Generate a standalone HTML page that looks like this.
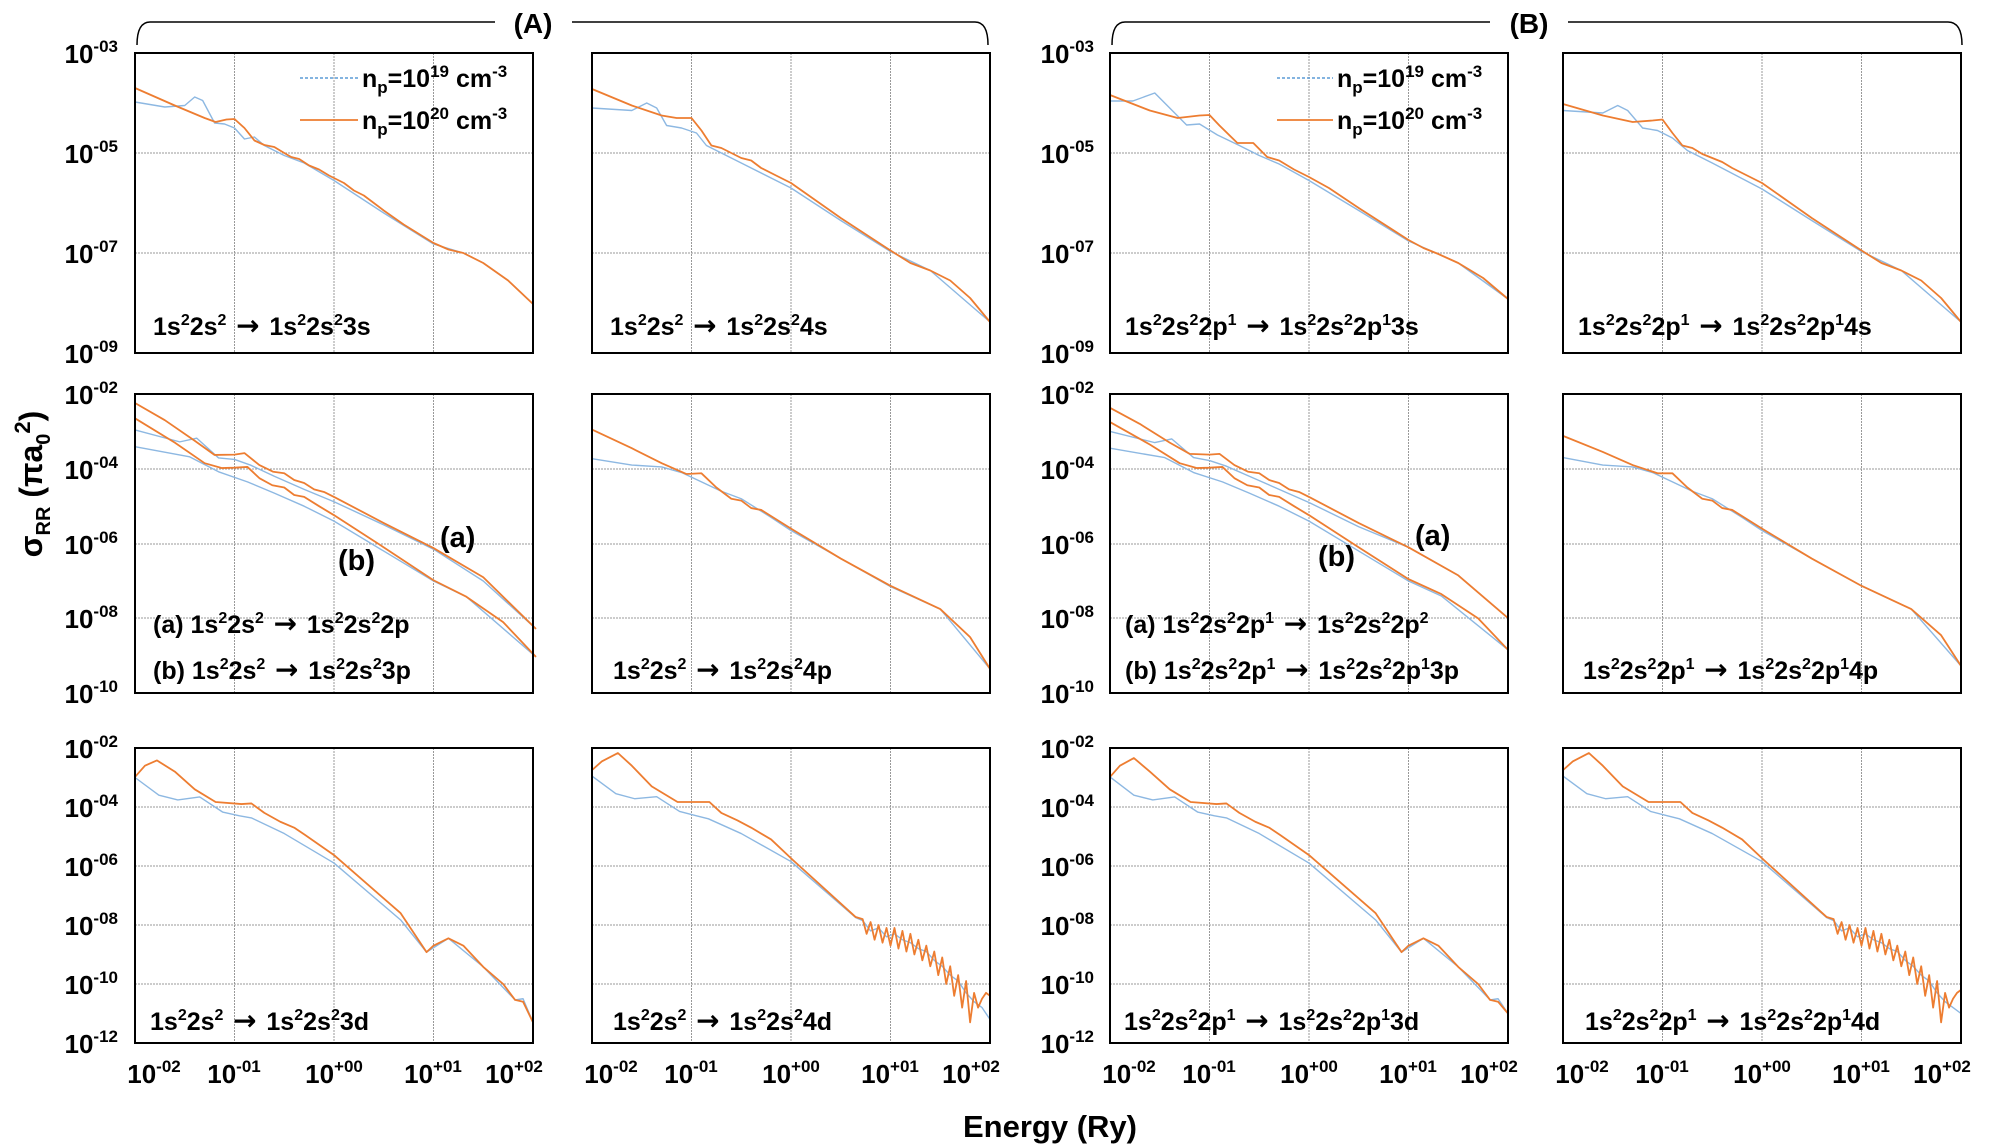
<!DOCTYPE html>
<html><head><meta charset="utf-8"><style>
html,body{margin:0;padding:0;background:#fff}
svg{display:block}
text{font-family:"Liberation Sans",sans-serif;font-weight:bold;fill:#000}
.tk{font-size:26px}
.lb{font-size:25px}
.ar{font-family:"DejaVu Sans",sans-serif;font-size:28px;font-weight:bold}
.fr{fill:none;stroke:#000;stroke-width:2}
.gr{stroke:#999;stroke-width:1;stroke-dasharray:2,1}
.o{fill:none;stroke:#ED7D31;stroke-width:1.8;vector-effect:non-scaling-stroke;stroke-linejoin:round}
.b{fill:none;stroke:#8DB8E2;stroke-width:1.4;vector-effect:non-scaling-stroke;stroke-linejoin:round}
</style></head><body>
<svg width="1998" height="1148" viewBox="0 0 1998 1148" xmlns="http://www.w3.org/2000/svg">
<path d="M137,45 Q137,22 150,22 L495,22 M572,22 L975,22 Q988,22 988,45" fill="none" stroke="#000" stroke-width="1.5"/>
<text x="533" y="33" text-anchor="middle" style="font-size:28px">(A)</text>
<path d="M1112,45 Q1112,22 1125,22 L1490,22 M1568,22 L1948,22 Q1962,22 1962,45" fill="none" stroke="#000" stroke-width="1.5"/>
<text x="1529" y="33" text-anchor="middle" style="font-size:28px">(B)</text>

<text transform="translate(42,484) rotate(-90)" text-anchor="middle" style="font-size:32px">σ<tspan dy="8" font-size="20">RR</tspan><tspan dy="-8"> (πa</tspan><tspan dy="8" font-size="20">0</tspan><tspan dy="-20" font-size="22">2</tspan><tspan dy="12">)</tspan></text>
<text x="1050" y="1137" text-anchor="middle" style="font-size:31px">Energy (Ry)</text>

<g class="gr">
<line x1="135" x2="533" y1="153" y2="153"/><line x1="135" x2="533" y1="253" y2="253"/>
<line x1="592" x2="990" y1="153" y2="153"/><line x1="592" x2="990" y1="253" y2="253"/>
<line x1="1110" x2="1508" y1="153" y2="153"/><line x1="1110" x2="1508" y1="253" y2="253"/>
<line x1="1563" x2="1961" y1="153" y2="153"/><line x1="1563" x2="1961" y1="253" y2="253"/>
<line x1="135" x2="533" y1="469" y2="469"/><line x1="135" x2="533" y1="544" y2="544"/><line x1="135" x2="533" y1="618" y2="618"/>
<line x1="592" x2="990" y1="469" y2="469"/><line x1="592" x2="990" y1="544" y2="544"/><line x1="592" x2="990" y1="618" y2="618"/>
<line x1="1110" x2="1508" y1="469" y2="469"/><line x1="1110" x2="1508" y1="544" y2="544"/><line x1="1110" x2="1508" y1="618" y2="618"/>
<line x1="1563" x2="1961" y1="469" y2="469"/><line x1="1563" x2="1961" y1="544" y2="544"/><line x1="1563" x2="1961" y1="618" y2="618"/>
<line x1="135" x2="533" y1="807" y2="807"/><line x1="135" x2="533" y1="866" y2="866"/><line x1="135" x2="533" y1="925" y2="925"/><line x1="135" x2="533" y1="984" y2="984"/>
<line x1="592" x2="990" y1="807" y2="807"/><line x1="592" x2="990" y1="866" y2="866"/><line x1="592" x2="990" y1="925" y2="925"/><line x1="592" x2="990" y1="984" y2="984"/>
<line x1="1110" x2="1508" y1="807" y2="807"/><line x1="1110" x2="1508" y1="866" y2="866"/><line x1="1110" x2="1508" y1="925" y2="925"/><line x1="1110" x2="1508" y1="984" y2="984"/>
<line x1="1563" x2="1961" y1="807" y2="807"/><line x1="1563" x2="1961" y1="866" y2="866"/><line x1="1563" x2="1961" y1="925" y2="925"/><line x1="1563" x2="1961" y1="984" y2="984"/>
<line x1="234.5" x2="234.5" y1="53" y2="353"/><line x1="334" x2="334" y1="53" y2="353"/><line x1="433.5" x2="433.5" y1="53" y2="353"/>
<line x1="691.5" x2="691.5" y1="53" y2="353"/><line x1="791" x2="791" y1="53" y2="353"/><line x1="890.5" x2="890.5" y1="53" y2="353"/>
<line x1="1209.5" x2="1209.5" y1="53" y2="353"/><line x1="1309" x2="1309" y1="53" y2="353"/><line x1="1408.5" x2="1408.5" y1="53" y2="353"/>
<line x1="1662.5" x2="1662.5" y1="53" y2="353"/><line x1="1762" x2="1762" y1="53" y2="353"/><line x1="1861.5" x2="1861.5" y1="53" y2="353"/>
<line x1="234.5" x2="234.5" y1="394" y2="693"/><line x1="334" x2="334" y1="394" y2="693"/><line x1="433.5" x2="433.5" y1="394" y2="693"/>
<line x1="691.5" x2="691.5" y1="394" y2="693"/><line x1="791" x2="791" y1="394" y2="693"/><line x1="890.5" x2="890.5" y1="394" y2="693"/>
<line x1="1209.5" x2="1209.5" y1="394" y2="693"/><line x1="1309" x2="1309" y1="394" y2="693"/><line x1="1408.5" x2="1408.5" y1="394" y2="693"/>
<line x1="1662.5" x2="1662.5" y1="394" y2="693"/><line x1="1762" x2="1762" y1="394" y2="693"/><line x1="1861.5" x2="1861.5" y1="394" y2="693"/>
<line x1="234.5" x2="234.5" y1="748" y2="1043"/><line x1="334" x2="334" y1="748" y2="1043"/><line x1="433.5" x2="433.5" y1="748" y2="1043"/>
<line x1="691.5" x2="691.5" y1="748" y2="1043"/><line x1="791" x2="791" y1="748" y2="1043"/><line x1="890.5" x2="890.5" y1="748" y2="1043"/>
<line x1="1209.5" x2="1209.5" y1="748" y2="1043"/><line x1="1309" x2="1309" y1="748" y2="1043"/><line x1="1408.5" x2="1408.5" y1="748" y2="1043"/>
<line x1="1662.5" x2="1662.5" y1="748" y2="1043"/><line x1="1762" x2="1762" y1="748" y2="1043"/><line x1="1861.5" x2="1861.5" y1="748" y2="1043"/>
</g>

<g transform="translate(135,53) scale(99.5,-50) translate(2,3)">
<polyline class="b" points="-2,-3.98 -1.7,-4.08 -1.5,-4.05 -1.4,-3.88 -1.32,-3.95 -1.2,-4.4 -1.1,-4.42 -1.0,-4.5 -0.9,-4.72 -0.8,-4.68 -0.7,-4.85 -0.5,-5.05 -0.3,-5.2 0,-5.55 0.5,-6.2 1.0,-6.82 1.3,-7.0 1.5,-7.2 1.75,-7.55 2,-8.02"/>
<polyline class="o" points="-2,-3.7 -1.6,-4.05 -1.3,-4.3 -1.19,-4.38 -1.08,-4.33 -1.0,-4.32 -0.9,-4.5 -0.8,-4.75 -0.7,-4.84 -0.6,-4.88 -0.5,-5.0 -0.43,-5.08 -0.35,-5.12 -0.25,-5.25 -0.15,-5.33 -0.05,-5.45 0,-5.5 0.1,-5.6 0.2,-5.75 0.3,-5.85 0.5,-6.15 0.7,-6.43 1.0,-6.8 1.15,-6.93 1.3,-7.0 1.5,-7.2 1.75,-7.55 2,-8.02"/>
</g>
<g transform="translate(592,53) scale(99.5,-50) translate(2,3)">
<polyline class="b" points="-2,-4.1 -1.6,-4.15 -1.45,-4.0 -1.35,-4.1 -1.25,-4.45 -1.1,-4.5 -0.95,-4.6 -0.85,-4.85 -0.7,-5.0 -0.5,-5.2 0,-5.7 0.5,-6.35 1,-6.97 1.4,-7.35 2,-8.38"/>
<polyline class="o" points="-2,-3.72 -1.6,-4.05 -1.3,-4.25 -1.15,-4.3 -1.0,-4.3 -0.9,-4.55 -0.8,-4.85 -0.7,-4.9 -0.6,-5.0 -0.5,-5.1 -0.4,-5.15 -0.3,-5.3 -0.15,-5.45 0,-5.6 0.5,-6.3 1,-6.95 1.2,-7.2 1.4,-7.35 1.6,-7.55 1.8,-7.9 2,-8.38"/>
</g>
<g transform="translate(1110,53) scale(99.5,-50) translate(2,3)">
<polyline class="b" points="-2,-3.96 -1.77,-3.96 -1.55,-3.8 -1.4,-4.1 -1.23,-4.44 -1.1,-4.42 -0.92,-4.64 -0.71,-4.84 -0.5,-5.05 -0.3,-5.22 0,-5.55 0.5,-6.15 1.0,-6.76 1.3,-7.02 1.5,-7.2 2,-7.92"/>
<polyline class="o" points="-2,-3.84 -1.6,-4.15 -1.32,-4.3 -1.1,-4.25 -1.0,-4.24 -0.9,-4.45 -0.72,-4.8 -0.56,-4.8 -0.42,-5.08 -0.3,-5.15 -0.15,-5.33 0,-5.48 0.2,-5.7 0.5,-6.1 1.0,-6.74 1.15,-6.9 1.3,-7.02 1.5,-7.2 1.75,-7.5 2,-7.92"/>
</g>
<g transform="translate(1563,53) scale(99.5,-50) translate(2,3)">
<polyline class="b" points="-2,-4.15 -1.6,-4.2 -1.45,-4.05 -1.35,-4.15 -1.2,-4.5 -1.05,-4.55 -0.9,-4.7 -0.75,-4.95 -0.5,-5.2 0,-5.72 0.5,-6.35 1,-6.97 1.4,-7.35 2,-8.38"/>
<polyline class="o" points="-2,-4.02 -1.6,-4.25 -1.3,-4.38 -1.1,-4.35 -1.0,-4.33 -0.9,-4.6 -0.8,-4.85 -0.7,-4.9 -0.6,-5.02 -0.5,-5.1 -0.4,-5.18 -0.3,-5.3 -0.15,-5.45 0,-5.6 0.5,-6.3 1,-6.95 1.2,-7.2 1.4,-7.35 1.6,-7.55 1.8,-7.9 2,-8.38"/>
</g>

<g transform="translate(135,394) scale(99.5,-37.4) translate(2,2)">
<polyline class="b" points="-2,-2.96 -1.55,-3.28 -1.38,-3.18 -1.16,-3.71 -1.0,-3.75 -0.84,-3.9 -0.6,-4.2 -0.3,-4.55 0,-4.88 0.5,-5.5 1.0,-6.15 1.5,-7.0 2.03,-8.28"/>
<polyline class="b" points="-2,-3.41 -1.45,-3.68 -1.16,-4.08 -0.87,-4.35 -0.6,-4.65 -0.3,-5.0 0,-5.4 0.5,-6.2 1.0,-7.0 1.33,-7.42 2.03,-9.03"/>
<polyline class="o" points="-2,-2.24 -1.7,-2.7 -1.4,-3.25 -1.2,-3.63 -1.0,-3.62 -0.9,-3.58 -0.75,-3.9 -0.61,-4.08 -0.5,-4.12 -0.4,-4.3 -0.3,-4.38 -0.2,-4.55 -0.1,-4.62 0.02,-4.78 0.5,-5.45 1.0,-6.12 1.5,-6.9 2.03,-8.28"/>
<polyline class="o" points="-2,-2.65 -1.6,-3.3 -1.3,-3.85 -1.13,-3.98 -1.0,-3.97 -0.87,-3.95 -0.75,-4.25 -0.62,-4.44 -0.5,-4.5 -0.4,-4.7 -0.3,-4.75 -0.15,-5.0 0,-5.24 0.5,-6.1 1.0,-6.98 1.33,-7.42 1.7,-8.1 2.03,-9.03"/>
</g>
<g transform="translate(592,394) scale(99.5,-37.4) translate(2,2)">
<polyline class="b" points="-2,-3.73 -1.6,-3.9 -1.3,-3.95 -1.1,-4.1 -0.9,-4.35 -0.7,-4.6 -0.5,-4.8 -0.2,-5.3 0,-5.65 0.5,-6.4 1,-7.15 1.5,-7.75 2,-9.35"/>
<polyline class="o" points="-2,-2.95 -1.6,-3.45 -1.3,-3.85 -1.05,-4.14 -0.9,-4.12 -0.75,-4.5 -0.6,-4.8 -0.5,-4.85 -0.4,-5.05 -0.3,-5.1 -0.15,-5.35 0,-5.6 0.5,-6.4 1,-7.13 1.5,-7.75 1.8,-8.5 2,-9.35"/>
</g>
<g transform="translate(1110,394) scale(99.5,-37.4) translate(2,2)">
<polyline class="b" points="-2,-3.0 -1.55,-3.3 -1.38,-3.2 -1.16,-3.7 -1.0,-3.78 -0.84,-3.92 -0.6,-4.2 -0.3,-4.55 0,-4.9 0.5,-5.55 1.0,-6.1 1.5,-6.85 2,-7.99"/>
<polyline class="b" points="-2,-3.45 -1.45,-3.7 -1.16,-4.1 -0.87,-4.35 -0.6,-4.65 -0.3,-5.0 0,-5.4 0.5,-6.2 1.0,-7.0 1.33,-7.4 2,-8.84"/>
<polyline class="o" points="-2,-2.37 -1.7,-2.8 -1.4,-3.3 -1.2,-3.6 -1.0,-3.62 -0.9,-3.6 -0.75,-3.9 -0.61,-4.08 -0.5,-4.12 -0.4,-4.3 -0.3,-4.38 -0.2,-4.55 -0.1,-4.62 0.02,-4.78 0.5,-5.45 1.0,-6.1 1.5,-6.85 2,-7.99"/>
<polyline class="o" points="-2,-2.75 -1.6,-3.35 -1.3,-3.85 -1.13,-3.98 -1.0,-3.97 -0.87,-3.95 -0.75,-4.25 -0.62,-4.44 -0.5,-4.5 -0.4,-4.7 -0.3,-4.75 -0.15,-5.0 0,-5.24 0.5,-6.1 1.0,-6.95 1.33,-7.35 1.7,-8.0 2,-8.84"/>
</g>
<g transform="translate(1563,394) scale(99.5,-37.4) translate(2,2)">
<polyline class="b" points="-2,-3.7 -1.6,-3.9 -1.3,-3.95 -1.1,-4.1 -0.9,-4.35 -0.7,-4.6 -0.5,-4.8 -0.2,-5.3 0,-5.65 0.5,-6.4 1,-7.13 1.5,-7.75 2,-9.27"/>
<polyline class="o" points="-2,-3.12 -1.6,-3.55 -1.3,-3.9 -1.05,-4.12 -0.9,-4.12 -0.75,-4.5 -0.6,-4.8 -0.5,-4.85 -0.4,-5.05 -0.3,-5.1 -0.15,-5.35 0,-5.6 0.5,-6.4 1,-7.13 1.5,-7.75 1.8,-8.45 2,-9.27"/>
</g>

<g transform="translate(135,748) scale(99.5,-29.5) translate(2,2)">
<polyline class="b" points="-2,-3.0 -1.76,-3.6 -1.57,-3.76 -1.35,-3.66 -1.12,-4.17 -0.95,-4.3 -0.83,-4.37 -0.5,-4.9 0,-5.9 0.67,-7.83 0.93,-8.92 1.15,-8.45 1.5,-9.42 1.82,-10.54 1.9,-10.5 2,-11.3"/>
<polyline class="o" points="-2,-2.98 -1.9,-2.6 -1.78,-2.42 -1.6,-2.8 -1.4,-3.4 -1.19,-3.83 -0.93,-3.9 -0.83,-3.88 -0.7,-4.2 -0.54,-4.5 -0.4,-4.7 -0.29,-4.95 0,-5.63 0.67,-7.6 0.93,-8.92 1.0,-8.7 1.15,-8.45 1.3,-8.7 1.5,-9.42 1.7,-10.0 1.82,-10.54 1.9,-10.6 2,-11.3"/>
</g>
<g transform="translate(592,748) scale(99.5,-29.5) translate(2,2)">
<polyline class="b" points="-2,-2.95 -1.76,-3.55 -1.57,-3.72 -1.35,-3.65 -1.12,-4.15 -0.95,-4.3 -0.83,-4.4 -0.5,-4.9 0,-5.85 0.65,-7.75 0.72,-7.85 0.8,-8.2 0.88,-8.1 0.96,-8.4 1.04,-8.3 1.12,-8.5 1.2,-8.6 1.28,-8.8 1.36,-8.9 1.44,-9.2 1.52,-9.4 1.6,-9.7 1.68,-9.9 1.76,-10.3 1.84,-10.6 1.92,-10.8 2,-11.2"/>
<polyline class="o" points="-2,-2.75 -1.9,-2.45 -1.74,-2.17 -1.6,-2.6 -1.4,-3.3 -1.14,-3.83 -0.82,-3.83 -0.7,-4.2 -0.54,-4.45 -0.4,-4.7 -0.2,-5.1 0.02,-5.8 0.65,-7.73 0.72,-7.8 0.76,-8.3 0.80,-7.9 0.84,-8.5 0.88,-8.0 0.92,-8.6 0.96,-8.1 1.00,-8.7 1.04,-8.1 1.08,-8.8 1.12,-8.2 1.16,-8.9 1.20,-8.3 1.24,-9.0 1.28,-8.5 1.32,-9.2 1.36,-8.7 1.40,-9.4 1.44,-8.9 1.48,-9.7 1.52,-9.1 1.56,-10.0 1.60,-9.4 1.64,-10.4 1.68,-9.7 1.72,-10.8 1.76,-9.9 1.80,-11.3 1.84,-10.3 1.88,-10.8 1.92,-10.5 1.96,-10.3 2,-10.4"/>
</g>
<g transform="translate(1110,748) scale(99.5,-29.5) translate(2,2)">
<polyline class="b" points="-2,-2.98 -1.76,-3.6 -1.57,-3.76 -1.35,-3.66 -1.12,-4.17 -0.95,-4.3 -0.83,-4.37 -0.5,-4.9 0,-5.9 0.67,-7.83 0.93,-8.92 1.15,-8.45 1.5,-9.42 1.82,-10.54 1.9,-10.5 2,-11.0"/>
<polyline class="o" points="-2,-2.98 -1.9,-2.6 -1.76,-2.34 -1.6,-2.8 -1.4,-3.4 -1.19,-3.83 -0.93,-3.9 -0.83,-3.88 -0.7,-4.2 -0.54,-4.5 -0.4,-4.7 -0.29,-4.95 0,-5.63 0.67,-7.6 0.93,-8.92 1.0,-8.7 1.15,-8.45 1.3,-8.7 1.5,-9.42 1.7,-10.0 1.82,-10.54 1.9,-10.6 2,-11.0"/>
</g>
<g transform="translate(1563,748) scale(99.5,-29.5) translate(2,2)">
<polyline class="b" points="-2,-2.95 -1.76,-3.55 -1.57,-3.72 -1.35,-3.65 -1.12,-4.15 -0.95,-4.3 -0.83,-4.4 -0.5,-4.9 0,-5.85 0.65,-7.75 0.72,-7.85 0.8,-8.2 0.88,-8.1 0.96,-8.4 1.04,-8.3 1.12,-8.5 1.2,-8.6 1.28,-8.8 1.36,-8.9 1.44,-9.2 1.52,-9.4 1.6,-9.7 1.68,-9.9 1.76,-10.3 1.84,-10.6 1.92,-10.8 2,-11.0"/>
<polyline class="o" points="-2,-2.75 -1.9,-2.45 -1.74,-2.17 -1.6,-2.6 -1.4,-3.3 -1.14,-3.83 -0.82,-3.83 -0.7,-4.2 -0.54,-4.45 -0.4,-4.7 -0.2,-5.1 0.02,-5.8 0.65,-7.73 0.72,-7.8 0.76,-8.3 0.80,-7.9 0.84,-8.5 0.88,-8.0 0.92,-8.6 0.96,-8.1 1.00,-8.7 1.04,-8.1 1.08,-8.8 1.12,-8.2 1.16,-8.9 1.20,-8.3 1.24,-9.0 1.28,-8.5 1.32,-9.2 1.36,-8.7 1.40,-9.4 1.44,-8.9 1.48,-9.7 1.52,-9.1 1.56,-10.0 1.60,-9.4 1.64,-10.4 1.68,-9.7 1.72,-10.8 1.76,-9.9 1.80,-11.3 1.84,-10.3 1.88,-10.8 1.92,-10.5 1.96,-10.3 2,-10.2"/>
</g>

<g class="fr">
<rect x="135" y="53" width="398" height="300"/><rect x="592" y="53" width="398" height="300"/><rect x="1110" y="53" width="398" height="300"/><rect x="1563" y="53" width="398" height="300"/>
<rect x="135" y="394" width="398" height="299"/><rect x="592" y="394" width="398" height="299"/><rect x="1110" y="394" width="398" height="299"/><rect x="1563" y="394" width="398" height="299"/>
<rect x="135" y="748" width="398" height="295"/><rect x="592" y="748" width="398" height="295"/><rect x="1110" y="748" width="398" height="295"/><rect x="1563" y="748" width="398" height="295"/>
</g>

<g class="tk" text-anchor="end">
<text x="118" y="63">10<tspan dy="-11" font-size="17">-03</tspan></text>
<text x="118" y="163">10<tspan dy="-11" font-size="17">-05</tspan></text>
<text x="118" y="263">10<tspan dy="-11" font-size="17">-07</tspan></text>
<text x="118" y="363">10<tspan dy="-11" font-size="17">-09</tspan></text>
<text x="118" y="404">10<tspan dy="-11" font-size="17">-02</tspan></text>
<text x="118" y="479">10<tspan dy="-11" font-size="17">-04</tspan></text>
<text x="118" y="554">10<tspan dy="-11" font-size="17">-06</tspan></text>
<text x="118" y="628">10<tspan dy="-11" font-size="17">-08</tspan></text>
<text x="118" y="703">10<tspan dy="-11" font-size="17">-10</tspan></text>
<text x="118" y="758">10<tspan dy="-11" font-size="17">-02</tspan></text>
<text x="118" y="817">10<tspan dy="-11" font-size="17">-04</tspan></text>
<text x="118" y="876">10<tspan dy="-11" font-size="17">-06</tspan></text>
<text x="118" y="935">10<tspan dy="-11" font-size="17">-08</tspan></text>
<text x="118" y="994">10<tspan dy="-11" font-size="17">-10</tspan></text>
<text x="118" y="1053">10<tspan dy="-11" font-size="17">-12</tspan></text>
<text x="1094" y="63">10<tspan dy="-11" font-size="17">-03</tspan></text>
<text x="1094" y="163">10<tspan dy="-11" font-size="17">-05</tspan></text>
<text x="1094" y="263">10<tspan dy="-11" font-size="17">-07</tspan></text>
<text x="1094" y="363">10<tspan dy="-11" font-size="17">-09</tspan></text>
<text x="1094" y="404">10<tspan dy="-11" font-size="17">-02</tspan></text>
<text x="1094" y="479">10<tspan dy="-11" font-size="17">-04</tspan></text>
<text x="1094" y="554">10<tspan dy="-11" font-size="17">-06</tspan></text>
<text x="1094" y="628">10<tspan dy="-11" font-size="17">-08</tspan></text>
<text x="1094" y="703">10<tspan dy="-11" font-size="17">-10</tspan></text>
<text x="1094" y="758">10<tspan dy="-11" font-size="17">-02</tspan></text>
<text x="1094" y="817">10<tspan dy="-11" font-size="17">-04</tspan></text>
<text x="1094" y="876">10<tspan dy="-11" font-size="17">-06</tspan></text>
<text x="1094" y="935">10<tspan dy="-11" font-size="17">-08</tspan></text>
<text x="1094" y="994">10<tspan dy="-11" font-size="17">-10</tspan></text>
<text x="1094" y="1053">10<tspan dy="-11" font-size="17">-12</tspan></text>
</g>

<g class="tk" text-anchor="middle">
<text x="154" y="1083">10<tspan dy="-11" font-size="17">-02</tspan></text>
<text x="234" y="1083">10<tspan dy="-11" font-size="17">-01</tspan></text>
<text x="334" y="1083">10<tspan dy="-11" font-size="17">+00</tspan></text>
<text x="433" y="1083">10<tspan dy="-11" font-size="17">+01</tspan></text>
<text x="514" y="1083">10<tspan dy="-11" font-size="17">+02</tspan></text>
<text x="611" y="1083">10<tspan dy="-11" font-size="17">-02</tspan></text>
<text x="691" y="1083">10<tspan dy="-11" font-size="17">-01</tspan></text>
<text x="791" y="1083">10<tspan dy="-11" font-size="17">+00</tspan></text>
<text x="890" y="1083">10<tspan dy="-11" font-size="17">+01</tspan></text>
<text x="971" y="1083">10<tspan dy="-11" font-size="17">+02</tspan></text>
<text x="1129" y="1083">10<tspan dy="-11" font-size="17">-02</tspan></text>
<text x="1209" y="1083">10<tspan dy="-11" font-size="17">-01</tspan></text>
<text x="1309" y="1083">10<tspan dy="-11" font-size="17">+00</tspan></text>
<text x="1408" y="1083">10<tspan dy="-11" font-size="17">+01</tspan></text>
<text x="1489" y="1083">10<tspan dy="-11" font-size="17">+02</tspan></text>
<text x="1582" y="1083">10<tspan dy="-11" font-size="17">-02</tspan></text>
<text x="1662" y="1083">10<tspan dy="-11" font-size="17">-01</tspan></text>
<text x="1762" y="1083">10<tspan dy="-11" font-size="17">+00</tspan></text>
<text x="1861" y="1083">10<tspan dy="-11" font-size="17">+01</tspan></text>
<text x="1942" y="1083">10<tspan dy="-11" font-size="17">+02</tspan></text>
</g>

<line x1="300" x2="358" y1="78" y2="78" stroke="#5B9BD5" stroke-width="1.5" stroke-dasharray="3,2"/>
<line x1="300" x2="358" y1="120" y2="120" stroke="#ED7D31" stroke-width="1.8"/>
<text x="362" y="87" class="lb">n<tspan dy="6" font-size="17">p</tspan><tspan dy="-6">=10</tspan><tspan dy="-10" font-size="17">19</tspan><tspan dy="10"> cm</tspan><tspan dy="-10" font-size="17">-3</tspan></text>
<text x="362" y="129" class="lb">n<tspan dy="6" font-size="17">p</tspan><tspan dy="-6">=10</tspan><tspan dy="-10" font-size="17">20</tspan><tspan dy="10"> cm</tspan><tspan dy="-10" font-size="17">-3</tspan></text>
<line x1="1277" x2="1333" y1="78" y2="78" stroke="#5B9BD5" stroke-width="1.5" stroke-dasharray="3,2"/>
<line x1="1277" x2="1333" y1="120" y2="120" stroke="#ED7D31" stroke-width="1.8"/>
<text x="1337" y="87" class="lb">n<tspan dy="6" font-size="17">p</tspan><tspan dy="-6">=10</tspan><tspan dy="-10" font-size="17">19</tspan><tspan dy="10"> cm</tspan><tspan dy="-10" font-size="17">-3</tspan></text>
<text x="1337" y="129" class="lb">n<tspan dy="6" font-size="17">p</tspan><tspan dy="-6">=10</tspan><tspan dy="-10" font-size="17">20</tspan><tspan dy="10"> cm</tspan><tspan dy="-10" font-size="17">-3</tspan></text>

<g class="lb">
<text x="153" y="335">1s<tspan dy="-10" font-size="16">2</tspan><tspan dy="10">2s</tspan><tspan dy="-10" font-size="16">2</tspan><tspan dy="10" class="ar"> → </tspan><tspan>1s</tspan><tspan dy="-10" font-size="16">2</tspan><tspan dy="10">2s</tspan><tspan dy="-10" font-size="16">2</tspan><tspan dy="10">3s</tspan></text>
<text x="610" y="335">1s<tspan dy="-10" font-size="16">2</tspan><tspan dy="10">2s</tspan><tspan dy="-10" font-size="16">2</tspan><tspan dy="10" class="ar"> → </tspan><tspan>1s</tspan><tspan dy="-10" font-size="16">2</tspan><tspan dy="10">2s</tspan><tspan dy="-10" font-size="16">2</tspan><tspan dy="10">4s</tspan></text>
<text x="1125" y="335">1s<tspan dy="-10" font-size="16">2</tspan><tspan dy="10">2s</tspan><tspan dy="-10" font-size="16">2</tspan><tspan dy="10">2p</tspan><tspan dy="-10" font-size="16">1</tspan><tspan dy="10" class="ar"> → </tspan><tspan>1s</tspan><tspan dy="-10" font-size="16">2</tspan><tspan dy="10">2s</tspan><tspan dy="-10" font-size="16">2</tspan><tspan dy="10">2p</tspan><tspan dy="-10" font-size="16">1</tspan><tspan dy="10">3s</tspan></text>
<text x="1578" y="335">1s<tspan dy="-10" font-size="16">2</tspan><tspan dy="10">2s</tspan><tspan dy="-10" font-size="16">2</tspan><tspan dy="10">2p</tspan><tspan dy="-10" font-size="16">1</tspan><tspan dy="10" class="ar"> → </tspan><tspan>1s</tspan><tspan dy="-10" font-size="16">2</tspan><tspan dy="10">2s</tspan><tspan dy="-10" font-size="16">2</tspan><tspan dy="10">2p</tspan><tspan dy="-10" font-size="16">1</tspan><tspan dy="10">4s</tspan></text>

<text x="153" y="633">(a) 1s<tspan dy="-10" font-size="16">2</tspan><tspan dy="10">2s</tspan><tspan dy="-10" font-size="16">2</tspan><tspan dy="10" class="ar"> → </tspan><tspan>1s</tspan><tspan dy="-10" font-size="16">2</tspan><tspan dy="10">2s</tspan><tspan dy="-10" font-size="16">2</tspan><tspan dy="10">2p</tspan></text>
<text x="153" y="679">(b) 1s<tspan dy="-10" font-size="16">2</tspan><tspan dy="10">2s</tspan><tspan dy="-10" font-size="16">2</tspan><tspan dy="10" class="ar"> → </tspan><tspan>1s</tspan><tspan dy="-10" font-size="16">2</tspan><tspan dy="10">2s</tspan><tspan dy="-10" font-size="16">2</tspan><tspan dy="10">3p</tspan></text>
<text x="613" y="679">1s<tspan dy="-10" font-size="16">2</tspan><tspan dy="10">2s</tspan><tspan dy="-10" font-size="16">2</tspan><tspan dy="10" class="ar"> → </tspan><tspan>1s</tspan><tspan dy="-10" font-size="16">2</tspan><tspan dy="10">2s</tspan><tspan dy="-10" font-size="16">2</tspan><tspan dy="10">4p</tspan></text>
<text x="1125" y="633">(a) 1s<tspan dy="-10" font-size="16">2</tspan><tspan dy="10">2s</tspan><tspan dy="-10" font-size="16">2</tspan><tspan dy="10">2p</tspan><tspan dy="-10" font-size="16">1</tspan><tspan dy="10" class="ar"> → </tspan><tspan>1s</tspan><tspan dy="-10" font-size="16">2</tspan><tspan dy="10">2s</tspan><tspan dy="-10" font-size="16">2</tspan><tspan dy="10">2p</tspan><tspan dy="-10" font-size="16">2</tspan></text>
<text x="1125" y="679">(b) 1s<tspan dy="-10" font-size="16">2</tspan><tspan dy="10">2s</tspan><tspan dy="-10" font-size="16">2</tspan><tspan dy="10">2p</tspan><tspan dy="-10" font-size="16">1</tspan><tspan dy="10" class="ar"> → </tspan><tspan>1s</tspan><tspan dy="-10" font-size="16">2</tspan><tspan dy="10">2s</tspan><tspan dy="-10" font-size="16">2</tspan><tspan dy="10">2p</tspan><tspan dy="-10" font-size="16">1</tspan><tspan dy="10">3p</tspan></text>
<text x="1583" y="679">1s<tspan dy="-10" font-size="16">2</tspan><tspan dy="10">2s</tspan><tspan dy="-10" font-size="16">2</tspan><tspan dy="10">2p</tspan><tspan dy="-10" font-size="16">1</tspan><tspan dy="10" class="ar"> → </tspan><tspan>1s</tspan><tspan dy="-10" font-size="16">2</tspan><tspan dy="10">2s</tspan><tspan dy="-10" font-size="16">2</tspan><tspan dy="10">2p</tspan><tspan dy="-10" font-size="16">1</tspan><tspan dy="10">4p</tspan></text>

<text x="150" y="1030">1s<tspan dy="-10" font-size="16">2</tspan><tspan dy="10">2s</tspan><tspan dy="-10" font-size="16">2</tspan><tspan dy="10" class="ar"> → </tspan><tspan>1s</tspan><tspan dy="-10" font-size="16">2</tspan><tspan dy="10">2s</tspan><tspan dy="-10" font-size="16">2</tspan><tspan dy="10">3d</tspan></text>
<text x="613" y="1030">1s<tspan dy="-10" font-size="16">2</tspan><tspan dy="10">2s</tspan><tspan dy="-10" font-size="16">2</tspan><tspan dy="10" class="ar"> → </tspan><tspan>1s</tspan><tspan dy="-10" font-size="16">2</tspan><tspan dy="10">2s</tspan><tspan dy="-10" font-size="16">2</tspan><tspan dy="10">4d</tspan></text>
<text x="1124" y="1030">1s<tspan dy="-10" font-size="16">2</tspan><tspan dy="10">2s</tspan><tspan dy="-10" font-size="16">2</tspan><tspan dy="10">2p</tspan><tspan dy="-10" font-size="16">1</tspan><tspan dy="10" class="ar"> → </tspan><tspan>1s</tspan><tspan dy="-10" font-size="16">2</tspan><tspan dy="10">2s</tspan><tspan dy="-10" font-size="16">2</tspan><tspan dy="10">2p</tspan><tspan dy="-10" font-size="16">1</tspan><tspan dy="10">3d</tspan></text>
<text x="1585" y="1030">1s<tspan dy="-10" font-size="16">2</tspan><tspan dy="10">2s</tspan><tspan dy="-10" font-size="16">2</tspan><tspan dy="10">2p</tspan><tspan dy="-10" font-size="16">1</tspan><tspan dy="10" class="ar"> → </tspan><tspan>1s</tspan><tspan dy="-10" font-size="16">2</tspan><tspan dy="10">2s</tspan><tspan dy="-10" font-size="16">2</tspan><tspan dy="10">2p</tspan><tspan dy="-10" font-size="16">1</tspan><tspan dy="10">4d</tspan></text>
</g>
<text x="440" y="547" style="font-size:29px">(a)</text>
<text x="338" y="570" style="font-size:29px">(b)</text>
<text x="1415" y="545" style="font-size:29px">(a)</text>
<text x="1318" y="566" style="font-size:29px">(b)</text>
</svg>
</body></html>
